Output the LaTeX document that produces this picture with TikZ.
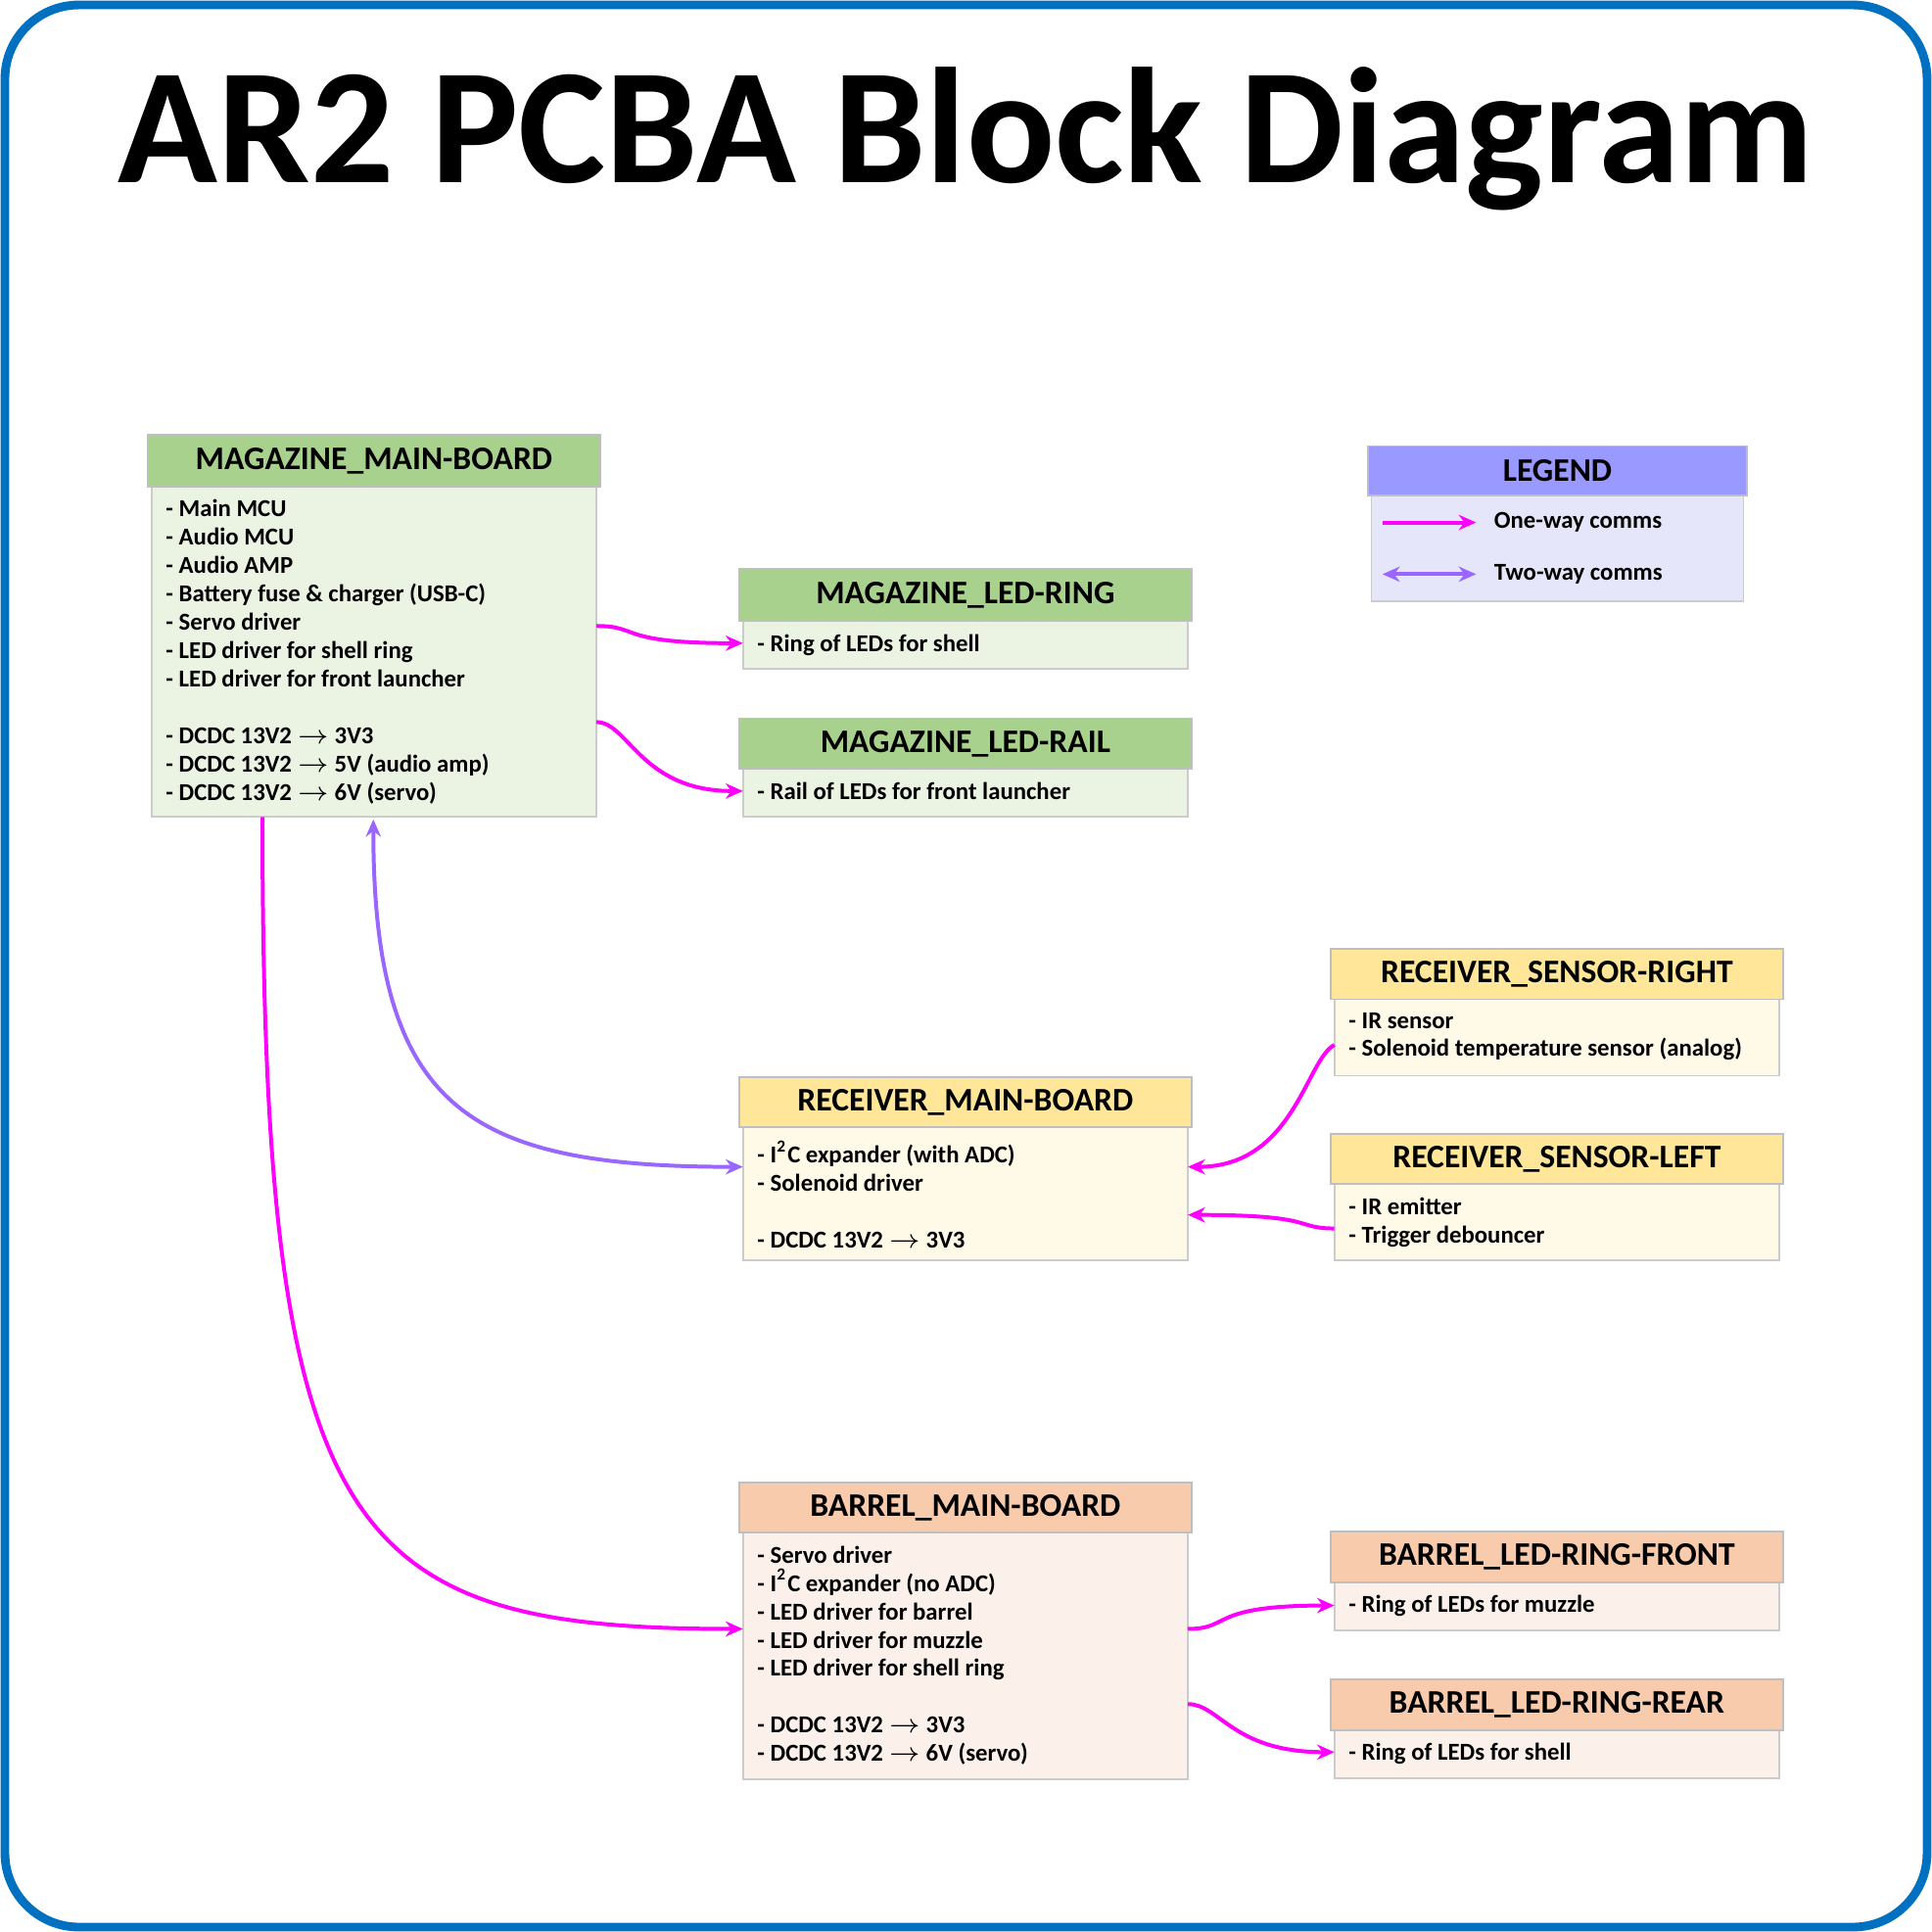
\documentclass[tikz,border=0pt]{standalone}
\usepackage{fontspec}
\setmainfont{Carlito}
\usetikzlibrary{arrows.meta}
\definecolor{gH}{HTML}{A9D18E}\definecolor{gB}{HTML}{EBF3E3}
\definecolor{yH}{HTML}{FFE699}\definecolor{yB}{HTML}{FFF9E8}
\definecolor{oH}{HTML}{F8CBAD}\definecolor{oB}{HTML}{FBF1EA}
\definecolor{lH}{HTML}{9999FF}\definecolor{lB}{HTML}{E6E6FA}
\definecolor{frame}{HTML}{0070C0}
\definecolor{mag}{HTML}{FF00FF}\definecolor{pur}{HTML}{9966FF}
\newcommand\mybox[9]{%
 \fill[#9B,draw=gray!40] (#2+3,#5) rectangle (#4-3,#6);
 \fill[#9H,draw=gray!50] (#2,#3) rectangle (#4,#5);
 \node[hdr] (#1) at ({(#2+#4)/2},{(#3+#5)/2}) {#7};
 \node[bdy] (#1b) at (#2+14,#5+10) {#8};}
\begin{document}
\begin{tikzpicture}[x=0.01cm,y=-0.01cm,
 hdr/.style={font=\bfseries\fontsize{7.6}{8}\selectfont,inner sep=0},
 bdy/.style={anchor=north west,align=left,inner sep=0,font=\bfseries\fontsize{5.6}{6.54}\selectfont},
 one/.style={mag,line width=0.9pt,-{Stealth[length=4pt,width=3.5pt]}},
 two/.style={pur,line width=0.9pt,{Stealth[length=4pt,width=3.5pt]}-{Stealth[length=4pt,width=3.5pt]}}]
\useasboundingbox (0,0) rectangle (1568,1568);
\fill[white] (0,0) rectangle (1568,1568);
\draw[frame,line width=2pt,rounded corners=0.6cm] (4,4) rectangle (1564,1564);
\node[font=\bfseries\fontsize{38}{40}\selectfont,inner sep=0] (title) at (784,113) {AR2 PCBA Block Diagram};
\mybox{mm}{120}{353}{487}{395}{663}{MAGAZINE\_MAIN-BOARD}{- Main MCU\\- Audio MCU\\- Audio AMP\\- Battery fuse \& charger (USB-C)\\- Servo driver\\- LED driver for shell ring\\- LED driver for front launcher\\[6.54pt]- DCDC 13V2 $\to$ 3V3\\- DCDC 13V2 $\to$ 5V (audio amp)\\- DCDC 13V2 $\to$ 6V (servo)}{g}
\mybox{ring}{600}{462}{967}{504}{543}{MAGAZINE\_LED-RING}{- Ring of LEDs for shell}{g}
\mybox{rail}{600}{583}{967}{624}{663}{MAGAZINE\_LED-RAIL}{- Rail of LEDs for front launcher}{g}
\mybox{rsr}{1080}{770}{1447}{811}{873}{RECEIVER\_SENSOR-RIGHT}{- IR sensor\\- Solenoid temperature sensor (analog)}{y}
\mybox{rm}{600}{874}{967}{915}{1023}{RECEIVER\_MAIN-BOARD}{- I\textsuperscript{2}C expander (with ADC)\\- Solenoid driver\\[6.54pt]- DCDC 13V2 $\to$ 3V3}{y}
\mybox{rsl}{1080}{920}{1447}{961}{1023}{RECEIVER\_SENSOR-LEFT}{- IR emitter\\- Trigger debouncer}{y}
\mybox{bm}{600}{1203}{967}{1244}{1444}{BARREL\_MAIN-BOARD}{- Servo driver\\- I\textsuperscript{2}C expander (no ADC)\\- LED driver for barrel\\- LED driver for muzzle\\- LED driver for shell ring\\[6.54pt]- DCDC 13V2 $\to$ 3V3\\- DCDC 13V2 $\to$ 6V (servo)}{o}
\mybox{bf}{1080}{1243}{1447}{1284}{1323}{BARREL\_LED-RING-FRONT}{- Ring of LEDs for muzzle}{o}
\mybox{br}{1080}{1363}{1447}{1404}{1443}{BARREL\_LED-RING-REAR}{- Ring of LEDs for shell}{o}
\mybox{lg}{1110}{362}{1418}{402}{488}{LEGEND}{}{l}
\node[bdy,anchor=west] (l1) at (1212,424) {One-way comms};
\node[bdy,anchor=west] (l2) at (1212,466) {Two-way comms};
\coordinate (l1a) at (1122,424); \coordinate (l1b) at (1198,424);
\coordinate (l2a) at (1122,466); \coordinate (l2b) at (1198,466);
\draw[one] (l1a) -- (l1b);
\draw[two] (l2a) -- (l2b);
% connector endpoints
\coordinate (a1) at (484,508); \coordinate (a2) at (603,522);
\coordinate (b1) at (484,586); \coordinate (b2) at (603,642);
\coordinate (c1) at (303,665); \coordinate (c2) at (603,947);
\coordinate (d1) at (213,663); \coordinate (d2) at (603,1322);
\coordinate (e1) at (1083,848); \coordinate (e2) at (964,947);
\coordinate (f1) at (1083,997); \coordinate (f2) at (964,986);
\coordinate (g1) at (964,1322); \coordinate (g2) at (1083,1303);
\coordinate (h1) at (964,1383); \coordinate (h2) at (1083,1422);
\draw[one] (a1) .. controls (520,508) and (500,522) .. (a2);
\draw[one] (b1) .. controls (510,586) and (520,642) .. (b2);
\draw[two] (c1) .. controls (303,900) and (380,947) .. (c2);
\draw[one] (d1) .. controls (213,1250) and (280,1322) .. (d2);
\draw[one] (e1) .. controls (1060,860) and (1050,947) .. (e2);
\draw[one] (f1) .. controls (1050,997) and (1070,986) .. (f2);
\draw[one] (g1) .. controls (1000,1322) and (980,1303) .. (g2);
\draw[one] (h1) .. controls (990,1383) and (1000,1422) .. (h2);
\end{tikzpicture}
\end{document}
